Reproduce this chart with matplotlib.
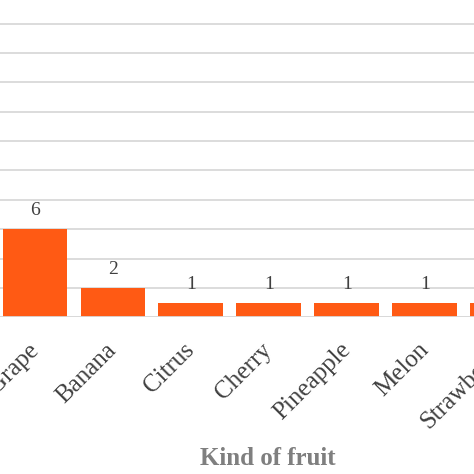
import matplotlib
matplotlib.use("Agg")
import matplotlib.pyplot as plt
import matplotlib.transforms as mtransforms

categories = ["Grape", "Banana", "Citrus", "Cherry", "Pineapple", "Melon", "Strawberry"]
values = [6, 2, 1, 1, 1, 1, 1]
y_ticks = [0, 2, 4, 6, 8, 10, 12, 14, 16, 18, 20]

bar_color = "#FF5A14"
grid_color = "#D9D9D9"
text_color = "#404040"
label_color = "#7F7F7F"

plt.rcParams["font.family"] = ["Liberation Serif", "DejaVu Serif"]

fig = plt.figure(figsize=(4.74, 4.74), dpi=100)
ax = fig.add_axes([0.0, 0.3306, 1.0, 0.6694])

x = list(range(len(categories)))
bars = ax.bar(x, values, width=0.83, color=bar_color, zorder=3)

ax.set_xticks(x)
ax.set_xticklabels([])
ax.set_yticks(y_ticks)
ax.set_xlim(-0.448, 5.633)
ax.set_ylim(0, 21.6)
ax.yaxis.grid(True, color=grid_color, linewidth=1.3, zorder=0)
ax.tick_params(axis="y", left=False, labelleft=False)
ax.tick_params(axis="x", bottom=False)
for s in ax.spines.values():
    s.set_visible(False)
ax.axhline(0, color=grid_color, linewidth=1.3, zorder=4)

# category labels (drawn as text so partially visible ones at the edge remain)
base = mtransforms.blended_transform_factory(ax.transData, ax.transAxes)
offset = mtransforms.ScaledTranslation(8 / 100, -21.5 / 100, fig.dpi_scale_trans)
for xi, name in zip(x, categories):
    ax.text(xi, 0, name, transform=base + offset, rotation=45,
            ha="right", va="top", fontsize=18, color=text_color, clip_on=False)

for xi, v in zip(x, values):
    ax.annotate(str(v), (xi, v), xytext=(0, 7), textcoords="offset points",
                ha="center", va="bottom", fontsize=14, color=text_color)

fig.text(268 / 474, 1 - 465 / 474, "Kind of fruit", ha="center", va="baseline",
         fontsize=18, fontweight="bold", color=label_color)

fig.savefig("out.png", dpi=100)
